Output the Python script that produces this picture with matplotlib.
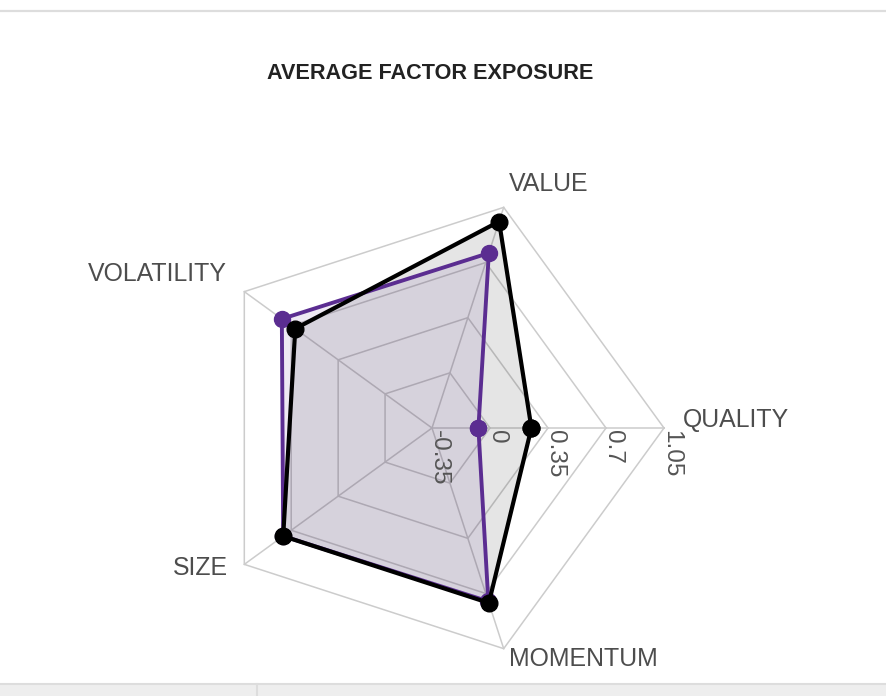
import numpy as np
import matplotlib.pyplot as plt
from matplotlib.lines import Line2D
from matplotlib.patches import Rectangle

plt.rcParams['font.family'] = ['Liberation Sans', 'DejaVu Sans']

# data
categories = ['QUALITY', 'MOMENTUM', 'SIZE', 'VOLATILITY', 'VALUE']
black_vals = [0.25, 0.76, 0.76, 0.67, 0.96]
purple_vals = [-0.07, 0.75, 0.76, 0.77, 0.76]
tick_vals = [-0.35, 0, 0.35, 0.7, 1.05]
tick_labels = ['-0.35', '0', '0.35', '0.7', '1.05']

rmin, rmax = -0.35, 1.05
purple = '#5b2d91'
grid_c = '#cccccc'

n = len(categories)
angles = np.arange(n) * 2 * np.pi / n
ang_closed = np.append(angles, angles[0])

fig = plt.figure(figsize=(8.86, 6.96), dpi=100)

# page chrome: top rule and bottom bar
fig.add_artist(Line2D([0, 1], [1 - 11 / 696, 1 - 11 / 696], color='#dddddd', lw=1.6))
fig.add_artist(Rectangle((0, 0), 1, 12 / 696, color='#eeeeee', lw=0))
fig.add_artist(Line2D([0, 1], [12 / 696, 12 / 696], color='#dddddd', lw=1.5))
fig.add_artist(Line2D([257 / 886, 257 / 886], [0, 12 / 696], color='#dddddd', lw=1.5))

fig.text(430 / 886, 1 - 79 / 696, 'AVERAGE FACTOR EXPOSURE', ha='center', va='baseline',
         fontsize=15.6, fontweight='bold', color='#222222')

ax = fig.add_axes([0.22573, 0.05172, 0.52370, 0.66667], projection='polar')
ax.set_theta_offset(0)
ax.set_theta_direction(-1)
ax.set_ylim(rmin, rmax)
ax.set_xticks([])
ax.set_yticks([])
ax.grid(False)
ax.spines['polar'].set_visible(False)
ax.patch.set_alpha(0)

# pentagon grid + spokes
for lv in tick_vals[1:]:
    ax.plot(ang_closed, [lv] * (n + 1), color=grid_c, lw=1.1, zorder=1, clip_on=False)
for a in angles:
    ax.plot([a, a], [rmin, rmax], color=grid_c, lw=1.1, zorder=1, clip_on=False)

# series
pv = np.append(purple_vals, purple_vals[0])
bv = np.append(black_vals, black_vals[0])
ax.fill(ang_closed, bv, color='black', alpha=0.1, lw=0, zorder=2)
ax.fill(ang_closed, pv, color=purple, alpha=0.1, lw=0, zorder=2)
ax.plot(ang_closed, pv, color=purple, lw=2.8, marker='o', ms=11.5, zorder=3, clip_on=False)
ax.plot(ang_closed, bv, color='black', lw=3.0, marker='o', ms=12, zorder=4, clip_on=False)

# radial tick labels along the first axis
for v, t in zip(tick_vals, tick_labels):
    ax.annotate(t, (angles[0], v), xytext=(-4, -2), textcoords='offset pixels',
                rotation=-90, ha='left', va='top', fontsize=17.5, color='#555555', zorder=5)

# category labels
offsets = {
    'QUALITY': ((19, 1), 'left'),
    'MOMENTUM': ((5, -17), 'left'),
    'SIZE': ((-16, -11), 'right'),
    'VOLATILITY': ((-17, 11), 'right'),
    'VALUE': ((5, 16), 'left'),
}
for a, c in zip(angles, categories):
    off, ha = offsets[c]
    ax.annotate(c, (a, rmax), xytext=off, textcoords='offset pixels',
                ha=ha, va='baseline', fontsize=17.9, color='#4d4d4d', annotation_clip=False)

plt.savefig('out.png', dpi=100)
